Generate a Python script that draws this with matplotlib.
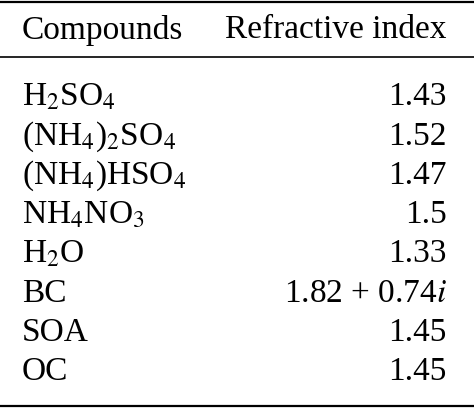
import matplotlib
matplotlib.use("Agg")
import matplotlib.pyplot as plt

plt.rcParams['font.family'] = ['Liberation Serif', 'DejaVu Serif']
plt.rcParams['mathtext.fontset'] = 'stix'

headers = ["Compounds", "Refractive index"]
compounds = [r"H$_2$SO$_4$", r"(NH$_4$)$_2$SO$_4$", r"(NH$_4$)HSO$_4$", r"NH$_4$NO$_3$",
             r"H$_2$O", "BC", "SOA", "OC"]
indices = ["1.43", "1.52", "1.47", "1.5", "1.33", r"1.82 + 0.74$i$", "1.45", "1.45"]

W, H = 474, 410
fig = plt.figure(figsize=(W/100, H/100), dpi=100)
ax = fig.add_axes([0, 0, 1, 1])
ax.set_xlim(0, W); ax.set_ylim(H, 0); ax.axis('off')

fs = 24
lx, rx = 22, 447
ax.axhline(3, color='black', lw=1.6)
ax.axhline(58, color='black', lw=1.2)
ax.axhline(407, color='black', lw=1.6)
ax.text(lx, 30, headers[0], fontsize=fs, va='center', ha='left')
ax.text(rx, 30, headers[1], fontsize=fs, va='center', ha='right')
y0, dy = 97, 39.3
for i, (c, v) in enumerate(zip(compounds, indices)):
    y = y0 + i*dy
    ax.text(lx, y, c, fontsize=fs, va='center', ha='left')
    ax.text(rx, y, v, fontsize=fs, va='center', ha='right')
fig.savefig("out.png", dpi=100)
